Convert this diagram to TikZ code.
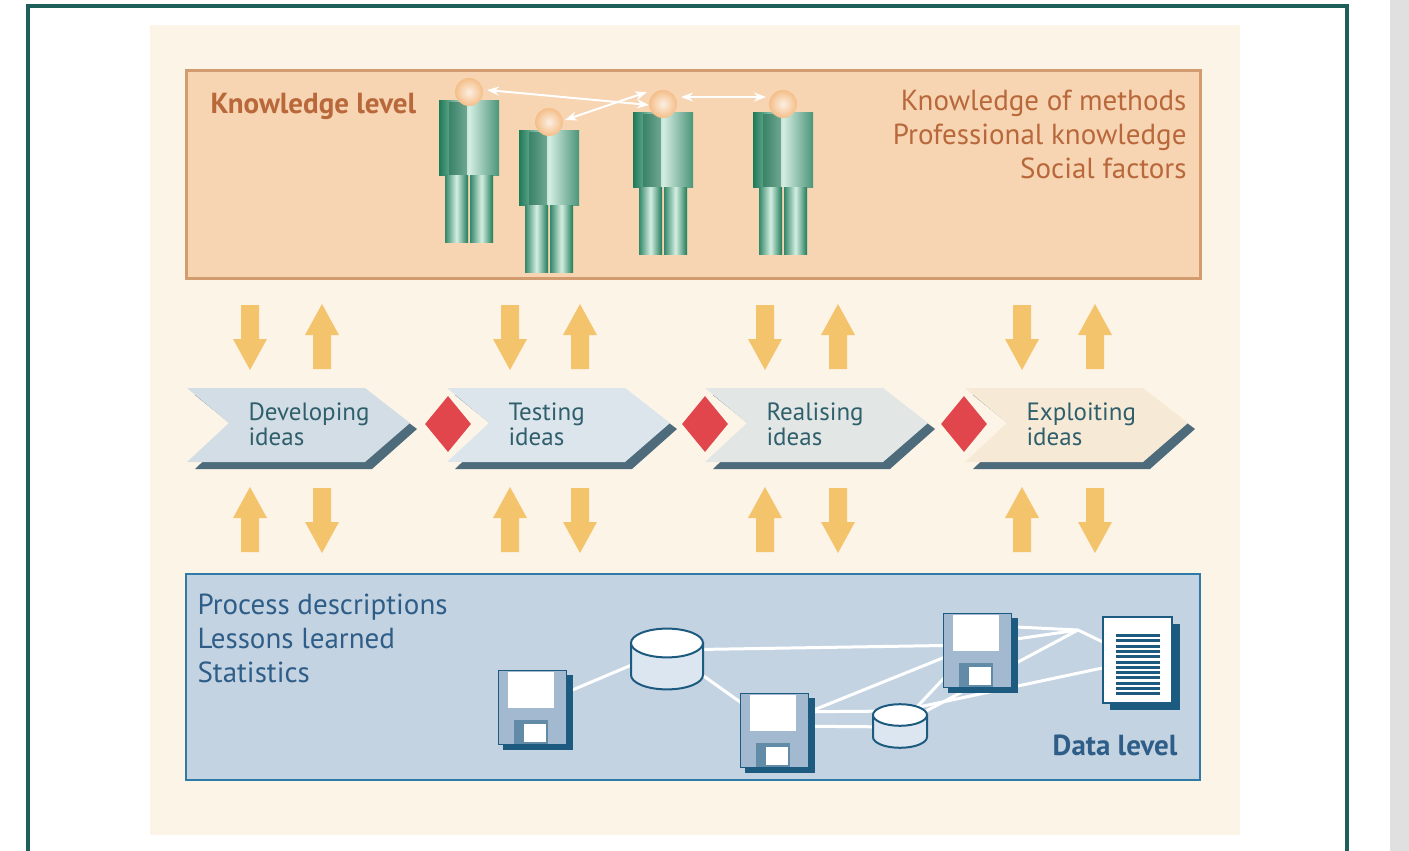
\documentclass[tikz,border=0pt]{standalone}
\usepackage{fontspec}
\setmainfont{PT Sans}
\usetikzlibrary{shapes.geometric,arrows.meta}
\definecolor{frame}{HTML}{1F5F5A}
\definecolor{bgbeige}{HTML}{FDF4E8}
\definecolor{kfill}{HTML}{F7D4B2}
\definecolor{kline}{HTML}{D39C70}
\definecolor{ktext}{HTML}{B8683A}
\definecolor{yarrow}{HTML}{F4C46C}
\definecolor{chevsh}{HTML}{4D6B7B}
\definecolor{chA}{HTML}{D3DDE5}
\definecolor{chB}{HTML}{DCE5EC}
\definecolor{chC}{HTML}{E2E7E5}
\definecolor{chD}{HTML}{F6EAD6}
\definecolor{ctext}{HTML}{2F5F6C}
\definecolor{dred}{HTML}{E0464B}
\definecolor{dfill}{HTML}{C4D3E2}
\definecolor{dline}{HTML}{2D7BA6}
\definecolor{dtext}{HTML}{2E5E88}
\definecolor{flop}{HTML}{A3B9CF}
\definecolor{flopd}{HTML}{1D5A80}
\definecolor{cylf}{HTML}{DCE6F0}
\definecolor{gdark}{HTML}{1E7A58}
\definecolor{glight}{HTML}{D4EEE2}
\definecolor{skin}{HTML}{F3C9A0}
\tikzset{
  yarr/.style={fill=yarrow, draw=none},
  chevtext/.style={text=ctext, font=\fontsize{25}{25}\selectfont, align=left, anchor=west},
  ktxt/.style={text=ktext, font=\fontsize{29}{34}\selectfont},
  dtxt/.style={text=dtext, font=\fontsize{29}{34}\selectfont},
  diam/.style={diamond, fill=dred, minimum width=46pt, minimum height=56pt, inner sep=0pt},
  wline/.style={white, line width=3pt},
  pics/floppy/.style={code={
    \fill[flopd] (5,5) rectangle (75,80);
    \filldraw[fill=flop, draw=flopd, line width=1pt] (0,0) rectangle (68,74);
    \fill[white] (10,2) rectangle (56,38);
    \fill[flopd!70] (16,50) rectangle (50,74);
    \fill[white] (26,54) rectangle (48,72);
  }},
  pics/cyl/.style args={#1/#2}{code={
    \filldraw[fill=cylf, draw=flopd, line width=2pt] (-#1,0) -- (-#1,#2) arc[start angle=180,end angle=0,x radius=#1,y radius=0.4*#1] -- (#1,0) -- cycle;
    \filldraw[fill=white, draw=flopd, line width=2pt] (0,0) ellipse[x radius=#1, y radius=0.4*#1];
  }},
  pics/person/.style={code={
    \shade[left color=gdark, right color=gdark!80, middle color=glight, shading angle=90] (-30,0) rectangle (30,75);
    \shade[left color=gdark!90, right color=gdark, middle color=glight] (-24,75) rectangle (-1,142);
    \shade[left color=gdark!90, right color=gdark, middle color=glight] (1,75) rectangle (24,142);
    \fill[gdark!85!black, opacity=0.5] (-20,2) rectangle (-2,75);
    \shade[inner color=white!70!skin, outer color=skin!85!orange] (0,-8) circle (14);
  }}
}
\begin{document}
\begin{tikzpicture}[x=1pt,y=-1pt]
\useasboundingbox (0,0) rectangle (1409,851);
\fill[white] (0,0) rectangle (1409,851);
\fill[black!12] (1390,0) rectangle (1409,851);
\draw[frame, line width=4pt] (28,853) -- (28,6) -- (1347,6) -- (1347,853);
\fill[bgbeige] (150,25) rectangle (1240,835);

% knowledge level
\filldraw[fill=kfill, draw=kline, line width=3pt] (186,71) rectangle (1200,278);
\node[ktxt, font=\bfseries\fontsize{29}{34}\selectfont, anchor=west] (kl) at (207,106) {Knowledge level};
\node[ktxt, anchor=north east, align=right] (kt) at (1190,86) {Knowledge of methods\\Professional knowledge\\Social factors};

\pic at (469,100) {person};
\pic at (549,130) {person};
\pic at (663,112) {person};
\pic at (783,112) {person};
\coordinate (h1) at (469,90);
\coordinate (h2) at (549,120);
\coordinate (h3) at (663,102);
\coordinate (h4) at (783,102);
\draw[white, line width=2pt, {Stealth[length=12pt]}-{Stealth[length=12pt]}] ([xshift=18pt]h1) -- ([xshift=-14pt,yshift=-3pt]h3);
\draw[white, line width=2pt, {Stealth[length=12pt]}-{Stealth[length=12pt]}] ([xshift=16pt]h2) -- ([xshift=-16pt,yshift=10pt]h3);
\draw[white, line width=2pt, {Stealth[length=12pt]}-{Stealth[length=12pt]}] ([xshift=18pt,yshift=5pt]h3) -- ([xshift=-17pt,yshift=5pt]h4);

% yellow arrows
\foreach \x/\dir in {250/1,322/-1,510/1,580/-1,765/1,838/-1,1022/1,1095/-1}{
  \begin{scope}[shift={(\x,337)}, yscale=\dir]
    \fill[yarr] (-9,-32) -- (9,-32) -- (9,2) -- (17,2) -- (0,33) -- (-17,2) -- (-9,2) -- cycle;
  \end{scope}
  \begin{scope}[shift={(\x,520)}, yscale=-\dir]
    \fill[yarr] (-9,-32) -- (9,-32) -- (9,2) -- (17,2) -- (0,33) -- (-17,2) -- (-9,2) -- cycle;
  \end{scope}
}

% chevrons
\foreach \x/\c/\t/\n in {187/chA/Developing/c1,447/chB/Testing/c2,705/chC/Realising/c3,965/chD/Exploiting/c4}{
  \fill[chevsh] (\x+8,395) -- (\x+185,395) -- (\x+230,429) -- (\x+185,469) -- (\x+8,469) -- (\x+50,429) -- cycle;
  \fill[\c] (\x,388) -- (\x+178,388) -- (\x+223,423) -- (\x+178,462) -- (\x,462) -- (\x+42,423) -- cycle;
  \node[chevtext] (\n) at (\x+58,424) {\t\\ideas};
}
\node[diam] (d1) at (448,424) {};
\node[diam] (d2) at (705,424) {};
\node[diam] (d3) at (964,424) {};

% data level
\filldraw[fill=dfill, draw=dline, line width=2.5pt] (186,574) rectangle (1200,780);
\node[dtxt, anchor=north west, align=left] (dt) at (194,590) {Process descriptions\\Lessons learned\\Statistics};
\node[dtxt, font=\bfseries\fontsize{29}{34}\selectfont, anchor=east] (dl) at (1181,745) {Data level};

\coordinate (f1) at (537,705);
\coordinate (f2) at (774,726);
\coordinate (f3) at (975,645);
\coordinate (cy1) at (667,650);
\coordinate (cy2) at (900,725);
\coordinate (doc) at (1140,660);
\coordinate (hub) at (1078,630);
\draw[wline] (f1) -- (cy1);
\draw[wline] (cy1) -- (f2);
\draw[wline] (cy1) -- (f3);
\draw[wline] (f2) -- (f3);
\draw[wline] (f2) -- ([yshift=-2pt]cy2);
\draw[wline] ([yshift=14pt]f2) -- ([yshift=14pt]cy2);
\draw[wline] (cy2) -- (f3);
\draw[wline] ([yshift=14pt]cy2) -- (doc);
\draw[wline] (f3) -- (hub);
\draw[wline] ([yshift=20pt]f3) -- (hub);
\draw[wline] (cy2) -- (hub);
\draw[wline] (hub) -- (doc);

\pic at (498,670) {floppy};
\pic at (740,693) {floppy};
\pic at (943,613) {floppy};
\pic at (667,643) {cyl={36/32}};
\pic at (900,715) {cyl={27/22}};
% document
\fill[flopd] (1110,624) rectangle (1180,710);
\filldraw[fill=white, draw=flopd, line width=1.5pt] (1103,617) rectangle (1172,703);
\foreach \i in {0,...,11}{\fill[flopd] (1116,634+5.3*\i) rectangle (1160,637+5.3*\i);}
\end{tikzpicture}
\end{document}
